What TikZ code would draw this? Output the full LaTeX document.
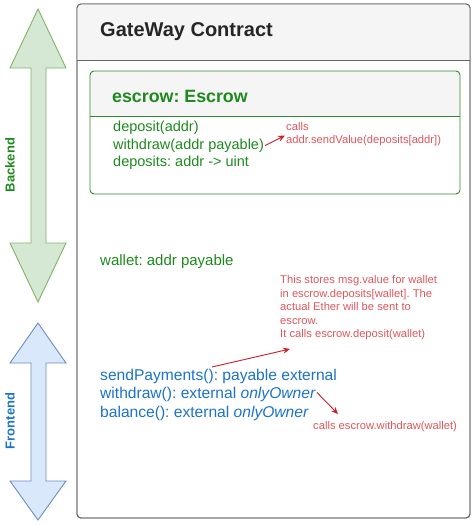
\documentclass[tikz,border=0pt]{standalone}
\usepackage{fontspec}
\setmainfont{Liberation Sans}
\usetikzlibrary{arrows.meta}
\frenchspacing
\definecolor{gtext}{HTML}{1E8A1E}
\definecolor{gstroke}{HTML}{2E8B2E}
\definecolor{btext}{HTML}{1C73C9}
\definecolor{rtext}{HTML}{E0575C}
\definecolor{rarrow}{HTML}{CC1F2A}
\definecolor{hdrfill}{HTML}{F5F5F5}
\definecolor{boxstroke}{HTML}{666666}
\definecolor{garrfill}{HTML}{D5E8D4}
\definecolor{garrstroke}{HTML}{82B366}
\definecolor{barrfill}{HTML}{DAE8FC}
\definecolor{barrstroke}{HTML}{6C8EBF}
\tikzset{
  txt/.style={anchor=west,inner sep=0pt},
  gline/.style={txt,text=gtext,font=\fontsize{14.5}{17}\selectfont},
  bline/.style={txt,text=btext,font=\fontsize{15.6}{18}\selectfont},
  note/.style={txt,text=rtext,font=\fontsize{11.2}{13.5}\selectfont,align=left},
  callarrow/.style={draw=rarrow,line width=0.9pt,-{Stealth[length=7pt,width=6pt]}},
}
\begin{document}
\begin{tikzpicture}[x=1pt,y=-1pt]
\useasboundingbox (0,0) rectangle (474,525);
% outer box
\draw[boxstroke,line width=0.9pt,fill=white,rounded corners=4pt] (77,4) rectangle (470,518);
\begin{scope}
\clip[rounded corners=4pt] (77,4) rectangle (470,518);
\fill[hdrfill] (77,4) rectangle (470,60);
\end{scope}
\draw[boxstroke,line width=0.9pt,rounded corners=4pt] (77,4) rectangle (470,518);
\draw[boxstroke,line width=0.9pt] (77,60) -- (470,60);
\node[txt,font=\fontsize{20}{22}\selectfont\bfseries,text=black!85] (title) at (100,32) {GateWay Contract};
% escrow box
\begin{scope}
\clip[rounded corners=4pt] (90,71) rectangle (460,194);
\fill[hdrfill] (90,71) rectangle (460,116);
\end{scope}
\draw[gstroke,line width=0.9pt,rounded corners=4pt] (90,71) rectangle (460,194);
\draw[gstroke,line width=0.9pt] (90,116) -- (460,116);
\node[txt,font=\fontsize{17.8}{20}\selectfont\bfseries,text=gtext] (etitle) at (112,96) {escrow: Escrow};
\node[gline] (dep) at (113,128) {deposit(addr)};
\node[gline] (wd) at (113,145.5) {withdraw(addr payable)};
\node[gline] (deps) at (113,163) {deposits: addr -> uint};
\node[note] (calls1) at (286,134) {calls\\addr.sendValue(deposits[addr])};
\draw[callarrow] ([xshift=1pt]wd.east) -- (285,135.5);
% wallet
\node[txt,text=gtext,font=\fontsize{15}{18}\selectfont] (wallet) at (100,262) {wallet: addr payable};
% note
\node[note] (note2) at (280,308) {This stores msg.value for wallet\\in escrow.deposits[wallet]. The\\actual Ether will be sent to\\escrow.\\It calls escrow.deposit(wallet)};
\node[bline] (sp) at (100,376) {sendPayments(): payable external};
\node[bline] (wo) at (100,394.5) {withdraw(): external \textit{onlyOwner}};
\node[bline] (bal) at (100,413) {balance(): external \textit{onlyOwner}};
\node[note] (calls2) at (313,427) {calls escrow.withdraw(wallet)};
\draw[callarrow] (212,367) -- (290,349);
\draw[callarrow] ([xshift=1pt,yshift=2pt]wo.east) -- (338,414);
% backend arrow
\draw[garrstroke,fill=garrfill,line width=0.9pt,line join=miter]
  (38,9) -- (66,68) -- (46,68) -- (46,243) -- (66,243) -- (38,302) -- (10,243) -- (31,243) -- (31,68) -- (10,68) -- cycle;
\node[rotate=90,text=gtext,font=\fontsize{13}{15}\selectfont\bfseries,inner sep=0pt] (backend) at (10,165) {Backend};
% frontend arrow
\draw[barrstroke,fill=barrfill,line width=0.9pt,line join=miter]
  (38,323) -- (66,363) -- (46,363) -- (46,481) -- (66,481) -- (38,520) -- (10,481) -- (31,481) -- (31,363) -- (10,363) -- cycle;
\node[rotate=90,text=btext,font=\fontsize{13}{15}\selectfont\bfseries,inner sep=0pt] (frontend) at (10,421) {Frontend};
\end{tikzpicture}
\end{document}
